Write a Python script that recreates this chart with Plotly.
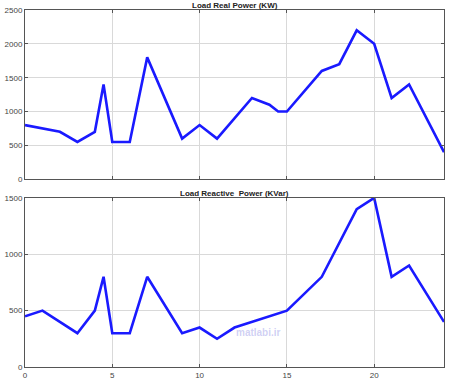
import plotly.graph_objects as go

# Data
real_x = [0, 2, 3, 4, 4.5, 5, 6, 7, 9, 10, 11, 13, 14, 14.5, 15, 17, 18, 19, 20, 21, 22, 24]
real_kw = [800, 700, 550, 700, 1400, 550, 550, 1800, 600, 800, 600, 1200, 1100, 1000, 1000, 1600, 1700, 2200, 2000, 1200, 1400, 400]

react_x = [0, 1, 3, 4, 4.5, 5, 6, 7, 9, 10, 11, 12, 15, 17, 19, 20, 21, 22, 24]
react_kvar = [450, 500, 300, 500, 800, 300, 300, 800, 300, 350, 250, 350, 500, 800, 1400, 1500, 800, 900, 400]

x_ticks = [0, 5, 10, 15, 20]
real_ticks = [0, 500, 1000, 1500, 2000, 2500]
react_ticks = [0, 500, 1000, 1500]

title_top = "Load Real Power (KW)"
title_bot = "Load Reactive  Power (KVar)"
watermark = "matlabi.ir"

line_color = "#1a1aff"

fig = go.Figure()
fig.add_trace(go.Scatter(x=real_x, y=real_kw, mode="lines", xaxis="x", yaxis="y",
                         line=dict(color=line_color, width=2.6), showlegend=False))
fig.add_trace(go.Scatter(x=react_x, y=react_kvar, mode="lines", xaxis="x2", yaxis="y2",
                         line=dict(color=line_color, width=2.6), showlegend=False))

axis_common = dict(showline=True, linecolor="#555", linewidth=1, mirror="allticks",
                   ticks="inside", ticklen=3, tickcolor="#555",
                   showgrid=True, gridcolor="#d9d9d9", gridwidth=1, zeroline=False,
                   tickfont=dict(family="Arial", size=8, color="#444"))

fig.update_layout(
    width=450, height=385,
    margin=dict(l=24, r=5, t=10, b=14),
    paper_bgcolor="white", plot_bgcolor="white",
    xaxis=dict(domain=[0, 1], range=[0, 24], tickvals=x_ticks, showticklabels=False,
               anchor="y", **axis_common),
    yaxis=dict(domain=[0.526, 1], range=[0, 2500], tickvals=real_ticks, anchor="x", **axis_common),
    xaxis2=dict(domain=[0, 1], range=[0, 24], tickvals=x_ticks, anchor="y2", **axis_common),
    yaxis2=dict(domain=[0, 0.4737], range=[0, 1500], tickvals=react_ticks, anchor="x2", **axis_common),
    annotations=[
        dict(text="<b>" + title_top + "</b>", x=0.5, y=1, xref="paper", yref="paper",
             xanchor="center", yanchor="bottom", showarrow=False, yshift=-2,
             font=dict(family="Arial", size=8, color="#222")),
        dict(text="<b>" + title_bot + "</b>", x=0.5, y=0.4737, xref="paper", yref="paper",
             xanchor="center", yanchor="bottom", showarrow=False, yshift=-2,
             font=dict(family="Arial", size=8, color="#222")),
        dict(text="<b>" + watermark + "</b>", x=13.4, y=310, xref="x2", yref="y2",
             xanchor="center", yanchor="middle", showarrow=False,
             font=dict(family="Arial", size=10, color="rgba(150,150,230,0.45)")),
    ],
)

fig.write_html("out.html")
